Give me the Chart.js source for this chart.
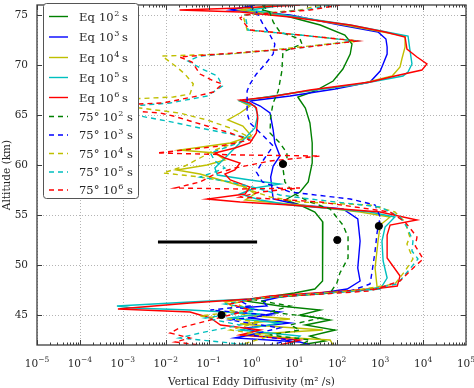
<!DOCTYPE html>
<html>
<head>
<meta charset="utf-8">
<script src="https://cdn.jsdelivr.net/npm/chart.js@4.4.1/dist/chart.umd.min.js"></script>
<style>
  html, body { margin: 0; padding: 0; background: #fff; }
  canvas { display: block; }
</style>
</head>
<body>
<canvas id="myChart" width="474" height="388"></canvas>
<script>
// profiles: [altitude (km), K (m^2/s)]
const eq1e2 = [[76.0, 2.1], [75.5, 1.8], [74.8, 7.9], [74.0, 40], [73.0, 150], [72.1, 220], [71.1, 200], [69.6, 135], [68.4, 80], [67.4, 30], [66.8, 12], [65.7, 18], [64.2, 23], [62.2, 26], [60.2, 26], [58.3, 21], [57.3, 13.5], [56.5, 6], [56.0, 13.5], [55.3, 30], [54.3, 46], [52.4, 46], [50.7, 44], [48.4, 46], [47.6, 30], [47.2, 10], [46.7, 1.6], [46.4, 0.71], [45.9, 4.6], [45.5, 40], [45.0, 13.5], [44.5, 68], [44.0, 18], [43.5, 89], [42.9, 23], [42.4, 52], [42.0, 13.5]];
const eq1e3 = [[76.0, 1.2], [75.5, 0.32], [75.0, 7.9], [74.0, 115], [73.3, 890], [72.6, 1360], [71.8, 1450], [71.1, 1450], [70.1, 1170], [69.4, 1000], [68.3, 580], [67.6, 89], [66.9, 7.9], [66.4, 0.92], [66.2, 1.1], [65.9, 1.6], [65.2, 2.7], [63.5, 3.2], [62.2, 3.5], [60.9, 4.6], [59.9, 3.2], [58.8, 2.8], [57.6, 3.0], [56.6, 3.2], [56.0, 13.5], [55.6, 135], [54.6, 300], [52.4, 340], [49.7, 300], [48.4, 340], [47.6, 170], [47.2, 40], [46.8, 4.6], [46.4, 1.8], [45.9, 2.3], [45.7, 0.54], [45.3, 4.6], [44.7, 0.92], [44.2, 7.9], [43.7, 0.71], [43.2, 1.6], [42.7, 0.41], [42.3, 13.5], [42.0, 23]];
const eq1e4 = [[76.0, 3.5], [75.5, 0.54], [74.9, 7.9], [74.0, 150], [72.9, 3800], [71.8, 3800], [70.6, 3200], [69.8, 2900], [68.9, 1900], [68.1, 340], [67.3, 13.5], [66.4, 0.54], [65.9, 0.92], [65.2, 0.54], [64.5, 0.28], [63.9, 0.63], [62.9, 1.0], [62.2, 0.32], [61.5, 0.021], [61.2, 0.14], [60.5, 0.24], [60.0, 0.092], [59.5, 0.018], [59.1, 0.063], [58.5, 0.19], [57.8, 0.71], [57.1, 1.2], [56.5, 0.71], [56.0, 13.5], [55.3, 340], [54.8, 1700], [54.0, 1000], [52.4, 890], [49.7, 760], [47.7, 850], [47.4, 200], [47.0, 13.5], [46.6, 0.92], [46.3, 0.24], [45.9, 0.35], [45.5, 0.32], [45.0, 0.71], [44.6, 7.9], [44.1, 0.54], [43.5, 46], [43.0, 0.54], [42.5, 68], [42.0, 80]];
const eq1e5 = [[76.0, 6.0], [75.5, 0.92], [74.9, 7.9], [74.0, 200], [72.9, 4450], [71.6, 4900], [70.1, 5500], [69.3, 4450], [68.9, 3400], [68.1, 340], [67.3, 13.5], [66.4, 0.54], [65.9, 1.2], [65.0, 1.4], [63.7, 1.2], [62.7, 0.71], [61.7, 0.41], [60.7, 0.24], [59.7, 0.14], [59.0, 0.16], [58.5, 0.92], [58.1, 4.6], [57.7, 1.2], [57.1, 0.54], [56.5, 1.6], [56.0, 7.9], [55.3, 580], [54.8, 2200], [53.8, 1300], [52.4, 1100], [50.4, 1170], [48.7, 1450], [47.6, 1000], [47.3, 115], [46.9, 7.9], [46.6, 0.92], [46.3, 0.037], [45.9, 7.3e-4], [45.7, 1.7e-3], [45.5, 0.037], [45.1, 1.6], [44.7, 0.32], [44.2, 4.6], [43.5, 0.54], [42.9, 13.5], [42.0, 7.9]];
const eq1e6 = [[76.0, 13.5], [75.7, 0.54], [75.5, 0.021], [75.3, 0.54], [75.0, 2.7], [74.8, 7.9], [74.0, 200], [73.3, 1300], [72.8, 3800], [71.6, 4200], [70.8, 7200], [70.1, 12300], [69.5, 9400], [68.9, 2200], [68.3, 580], [67.5, 23], [66.8, 2.7], [66.5, 0.54], [66.2, 0.92], [65.7, 1.3], [64.7, 1.4], [63.2, 1.3], [62.2, 0.92], [61.7, 0.41], [61.2, 0.14], [60.7, 0.24], [60.2, 0.54], [59.5, 0.41], [59.1, 0.24], [58.5, 0.32], [57.8, 0.92], [57.1, 0.71], [56.6, 0.092], [56.3, 0.54], [56.0, 7.9], [55.3, 1000], [54.5, 7200], [54.0, 1700], [53.0, 1450], [50.7, 1450], [48.9, 2900], [47.9, 2500], [47.6, 680], [47.3, 68], [46.9, 2.7], [46.6, 0.92], [46.2, 0.037], [45.6, 7.7e-4], [45.3, 0.037], [44.7, 0.11], [44.0, 0.19], [43.5, 1.6], [43.0, 0.54], [42.5, 13.5], [42.0, 4.6]];

const lat75e2 = [[76.0, 1.8], [75.2, 2.7], [74.3, 3.2], [73.3, 4.6], [72.6, 13.5], [72.1, 15], [71.3, 5.4], [69.4, 5.1], [67.4, 4.2], [66.2, 3.2], [64.9, 2.8], [63.2, 2.7], [62.2, 4.6], [61.2, 6.7], [60.4, 6.7], [59.7, 5.4], [58.3, 6.0], [57.1, 10], [56.3, 23], [55.6, 68], [54.0, 135], [52.8, 178], [50.7, 178], [49.2, 115], [48.2, 98], [47.2, 68], [46.6, 0.92], [45.9, 7.9], [45.3, 2.7], [44.7, 40], [44.0, 7.9], [43.5, 13.5], [43.0, 2.7], [42.5, 23], [42.0, 13.5]];
const lat75e3 = [[76.0, 0.92], [75.3, 1.3], [74.0, 1.9], [73.0, 2.7], [72.1, 3.5], [71.1, 3.2], [70.1, 2.1], [69.1, 1.3], [68.1, 0.92], [67.4, 0.79], [66.2, 0.79], [65.2, 0.79], [64.2, 0.92], [62.9, 1.9], [61.9, 3.2], [60.5, 1.9], [59.3, 1.3], [58.3, 1.8], [57.3, 7.9], [56.6, 200], [56.0, 760], [54.8, 1000], [53.3, 850], [51.4, 760], [49.4, 650], [48.1, 580], [47.4, 200], [46.8, 2.7], [46.4, 0.54], [45.9, 0.92], [45.5, 0.11], [45.0, 2.7], [44.5, 0.32], [43.7, 4.6], [43.0, 0.92], [42.5, 7.9], [42.0, 2.7]];
const lat75e4 = [[76.0, 40], [75.5, 13.5], [75.0, 0.63], [73.5, 0.79], [73.0, 13.5], [72.4, 300], [71.8, 13.5], [71.1, 0.32], [70.9, 8.2e-3], [69.8, 0.018], [69.1, 0.028], [68.1, 0.044], [67.1, 0.037], [66.8, 0.015], [66.6, 1.5e-3], [66.3, 1.7e-4], [66.0, 2.9e-4], [65.7, 2.5e-3], [65.2, 0.021], [64.5, 0.092], [63.7, 0.32], [62.9, 0.79], [62.2, 0.41], [61.5, 0.14], [60.7, 0.063], [59.9, 0.028], [59.2, 8.7e-3], [58.8, 0.063], [58.3, 0.32], [57.5, 0.92], [56.8, 2.7], [56.3, 13.5], [56.0, 580], [55.3, 2200], [54.3, 3800], [52.8, 4900], [52.1, 4200], [51.4, 4900], [50.6, 5800], [49.4, 3800], [48.1, 2200], [47.4, 200], [46.7, 1.6], [46.2, 0.41], [45.5, 0.92], [44.9, 0.063], [44.3, 1.6], [43.5, 0.32], [42.9, 2.7], [42.0, 0.54]];
const lat75e5 = [[76.0, 68], [75.5, 18], [75.0, 0.71], [73.5, 0.83], [73.0, 13.5], [72.4, 270], [71.6, 7.9], [70.9, 0.063], [70.4, 0.033], [69.6, 0.07], [68.9, 0.16], [67.9, 0.21], [66.9, 0.092], [66.2, 0.0126], [65.8, 8.6e-4], [65.5, 2.2e-4], [65.2, 8.6e-4], [64.9, 2.5e-3], [64.4, 0.0107], [63.7, 0.063], [62.7, 0.92], [61.9, 0.32], [61.2, 0.11], [60.4, 0.14], [59.7, 0.24], [59.3, 0.14], [58.8, 0.063], [58.3, 0.32], [57.6, 1.6], [57.0, 4.6], [56.6, 23], [55.8, 1000], [54.8, 2900], [53.8, 4200], [52.4, 5800], [51.4, 5500], [50.6, 7600], [49.6, 4900], [48.1, 2500], [47.4, 340], [46.7, 1.6], [46.1, 0.24], [45.5, 1.6], [44.7, 0.083], [44.0, 0.54], [43.2, 0.063], [42.7, 0.021], [42.3, 0.19], [42.0, 0.92]];
const lat75e6 = [[76.0, 115], [75.5, 23], [75.0, 0.71], [74.7, 0.54], [73.5, 0.92], [73.0, 13.5], [72.4, 300], [71.6, 7.9], [71.1, 0.19], [70.8, 0.021], [70.3, 0.041], [69.1, 0.063], [68.4, 0.13], [68.1, 0.21], [67.3, 0.13], [66.9, 0.054], [66.2, 8.7e-3], [66.0, 5e-4], [65.7, 1.3e-4], [65.5, 8.6e-4], [65.2, 7.4e-3], [64.9, 0.015], [64.4, 0.037], [63.9, 0.092], [63.2, 0.32], [62.5, 0.92], [61.9, 0.19], [61.2, 6.3e-3], [61.0, 0.54], [60.9, 40], [60.4, 2.7], [59.7, 0.41], [59.1, 0.14], [58.3, 0.063], [57.7, 0.0165], [57.6, 0.54], [57.7, 13.5], [57.3, 1.6], [56.8, 0.54], [56.3, 40], [55.3, 1700], [54.3, 3800], [52.8, 7200], [51.9, 6600], [50.6, 10000], [49.9, 6600], [48.4, 2900], [47.4, 580], [46.7, 1.6], [46.1, 0.32], [45.5, 0.92], [44.5, 0.11], [43.7, 0.021], [43.2, 0.0126], [42.7, 0.037], [42.3, 0.0165], [42.0, 0.063]];

const markerPts = [[60.1, 5.4], [53.9, 930], [52.5, 100], [45.0, 0.2]];
const barPts = [[52.3, 0.0066], [52.3, 1.35]];

const sites = ['Eq', '75\u00B0'];
const timeExps = ['2', '3', '4', '5', '6'];
const xTicks = [1e-5, 1e-4, 1e-3, 1e-2, 1e-1, 1, 10, 100, 1e3, 1e4, 1e5];
const xTickExps = ['\u22125', '\u22124', '\u22123', '\u22122', '\u22121', '0', '1', '2', '3', '4', '5'];
const yTicks = [45, 50, 55, 60, 65, 70, 75];

const colors = ['#008000', '#0000ff', '#bfbf00', '#00bfbf', '#ff0000'];
const serif = '"DejaVu Serif", "Liberation Serif", serif';
const frameColor = '#3c3c3c';
const textColor = '#262626';

const profiles = [eq1e2, eq1e3, eq1e4, eq1e5, eq1e6, lat75e2, lat75e3, lat75e4, lat75e5, lat75e6];

const datasets = profiles.map((pts, i) => ({
  label: sites[Math.floor(i / 5)] + ' 10^' + timeExps[i % 5] + ' s',
  data: pts.map(([alt, k]) => ({ x: k, y: alt })),
  showLine: true,
  borderColor: colors[i % 5],
  backgroundColor: colors[i % 5],
  borderWidth: 1.4,
  borderDash: i < 5 ? [] : [5, 4],
  pointRadius: 0,
  order: 20 - i
}));

datasets.push({
  label: 'bar',
  data: barPts.map(([alt, k]) => ({ x: k, y: alt })),
  showLine: true,
  borderColor: '#000',
  borderWidth: 3.2,
  pointRadius: 0,
  order: 1
});
datasets.push({
  label: 'points',
  data: markerPts.map(([alt, k]) => ({ x: k, y: alt })),
  showLine: false,
  backgroundColor: '#000',
  borderColor: '#000',
  pointRadius: 3.6,
  order: 0
});

function line(ctx, x1, y1, x2, y2) {
  ctx.beginPath(); ctx.moveTo(x1, y1); ctx.lineTo(x2, y2); ctx.stroke();
}

const decor = {
  id: 'decor',
  beforeDatasetsDraw(chart) {
    const { ctx, chartArea: a, scales: { x, y } } = chart;
    ctx.save();
    ctx.strokeStyle = '#b4b4b4';
    ctx.lineWidth = 1;
    ctx.setLineDash([1, 2]);
    xTicks.forEach(v => {
      const px = Math.round(x.getPixelForValue(v)) + 0.5;
      line(ctx, px, a.top, px, a.bottom);
    });
    yTicks.forEach(v => {
      const py = Math.round(y.getPixelForValue(v)) + 0.5;
      line(ctx, a.left, py, a.right, py);
    });
    ctx.restore();
  },
  afterDatasetsDraw(chart) {
    const { ctx, chartArea: a, scales: { x, y } } = chart;
    ctx.save();

    // ticks (inward) on all four sides
    ctx.strokeStyle = frameColor;
    ctx.lineWidth = 1;
    for (let d = -5; d < 5; d++) {
      for (let m = 1; m < 10; m++) {
        const px = Math.round(x.getPixelForValue(m * Math.pow(10, d))) + 0.5;
        const len = m === 1 ? 5 : 2.5;
        line(ctx, px, a.bottom, px, a.bottom - len);
        line(ctx, px, a.top, px, a.top + len);
      }
    }
    yTicks.forEach(v => {
      const py = Math.round(y.getPixelForValue(v)) + 0.5;
      line(ctx, a.left, py, a.left + 5, py);
      line(ctx, a.right, py, a.right - 5, py);
    });

    // frame
    ctx.lineWidth = 1.3;
    ctx.strokeRect(a.left, a.top, a.right - a.left, a.bottom - a.top);

    // tick labels
    ctx.fillStyle = textColor;
    ctx.font = '10.5px ' + serif;
    ctx.textAlign = 'right';
    ctx.textBaseline = 'middle';
    yTicks.forEach(v => ctx.fillText(String(v), 28, y.getPixelForValue(v)));

    ctx.textAlign = 'left';
    ctx.textBaseline = 'alphabetic';
    xTicks.forEach((v, i) => {
      const cx = x.getPixelForValue(v);
      ctx.font = '10.5px ' + serif;
      const w1 = ctx.measureText('10').width;
      ctx.font = '7.5px ' + serif;
      const w2 = ctx.measureText(xTickExps[i]).width;
      const x0 = cx - (w1 + w2) / 2;
      ctx.font = '10.5px ' + serif;
      ctx.fillText('10', x0, 367);
      ctx.font = '7.5px ' + serif;
      ctx.fillText(xTickExps[i], x0 + w1, 362);
    });

    // axis titles
    ctx.font = '10.5px ' + serif;
    ctx.textAlign = 'center';
    ctx.fillText('Vertical Eddy Diffusivity (m\u00B2 /s)', (a.left + a.right) / 2, 385);
    ctx.save();
    ctx.translate(9.5, (a.top + a.bottom) / 2);
    ctx.rotate(-Math.PI / 2);
    ctx.fillText('Altitude (km)', 0, 0);
    ctx.restore();

    // legend
    const lx = 43.5, ly = 3.5, lw = 95, lh = 195, r = 3;
    ctx.beginPath();
    ctx.moveTo(lx + r, ly);
    ctx.lineTo(lx + lw - r, ly);
    ctx.arcTo(lx + lw, ly, lx + lw, ly + r, r);
    ctx.lineTo(lx + lw, ly + lh - r);
    ctx.arcTo(lx + lw, ly + lh, lx + lw - r, ly + lh, r);
    ctx.lineTo(lx + r, ly + lh);
    ctx.arcTo(lx, ly + lh, lx, ly + lh - r, r);
    ctx.lineTo(lx, ly + r);
    ctx.arcTo(lx, ly, lx + r, ly, r);
    ctx.closePath();
    ctx.fillStyle = '#fff';
    ctx.fill();
    ctx.strokeStyle = '#555';
    ctx.lineWidth = 1;
    ctx.stroke();

    const rowY = [16.5, 37, 57.5, 77.5, 97.5, 116.5, 135, 153.5, 172, 190];
    ctx.textAlign = 'left';
    rowY.forEach((ry, i) => {
      const ds = chart.data.datasets[i];
      ctx.strokeStyle = ds.borderColor;
      ctx.lineWidth = 1.4;
      ctx.setLineDash(ds.borderDash);
      line(ctx, 49, ry, 68, ry);
      ctx.setLineDash([]);
      const eq = i < 5;
      ctx.fillStyle = textColor;
      ctx.font = '11.5px ' + serif;
      ctx.fillText(sites[eq ? 0 : 1], 79, ry + 4);
      const tx = eq ? 99 : 103;
      ctx.fillText('10', tx, ry + 4);
      const w10 = ctx.measureText('10').width;
      ctx.font = '8px ' + serif;
      ctx.fillText(timeExps[i % 5], tx + w10 + 0.5, ry - 1);
      ctx.font = '11.5px ' + serif;
      ctx.fillText('s', eq ? 122 : 127, ry + 4);
    });

    ctx.restore();
  }
};

new Chart(document.getElementById('myChart'), {
  type: 'scatter',
  data: { datasets },
  options: {
    responsive: false,
    devicePixelRatio: 1,
    animation: false,
    events: [],
    layout: { padding: { left: 37, right: 8, top: 0, bottom: 43 } },
    scales: {
      x: { type: 'logarithmic', min: 1e-5, max: 1e5, display: false },
      y: { type: 'linear', min: 42, max: 76, display: false }
    },
    plugins: {
      legend: { display: false },
      tooltip: { enabled: false }
    }
  },
  plugins: [decor]
});
</script>
</body>
</html>
